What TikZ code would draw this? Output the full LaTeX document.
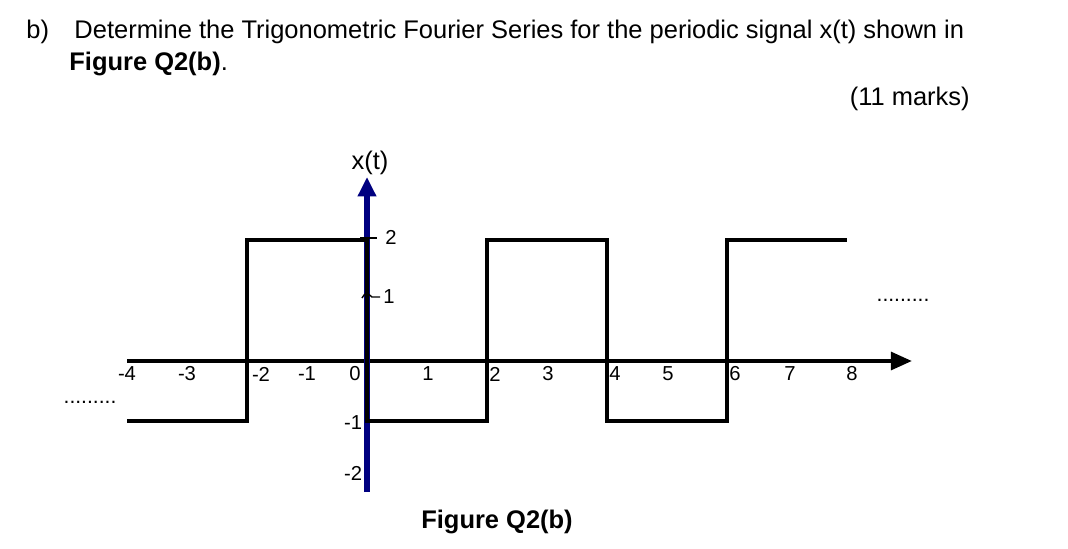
\documentclass[tikz,border=0pt]{standalone}
\usepackage{fontspec}
\setmainfont{Liberation Sans}
\usetikzlibrary{arrows.meta}
\begin{document}
\begin{tikzpicture}[x=0.02cm,y=-0.02cm,
  sig/.style={line width=2.4pt,black},
  tick/.style={font=\fontsize{11.5}{13}\selectfont,inner sep=0pt},
  txt/.style={font=\fontsize{14.5}{17}\selectfont,inner sep=0pt,anchor=west}]
\useasboundingbox (0,0) rectangle (1068,548);
\node[txt] (q) at (26,32) {b)\quad Determine the Trigonometric Fourier Series for the periodic signal x(t) shown in};
\node[txt] (q2) at (69,64) {\textbf{Figure Q2(b)}.};
\node[txt,anchor=east] (m) at (970,99) {(11 marks)};
\coordinate (xs) at (127,361);
\coordinate (xe) at (912,361);
\draw[sig,-{Triangle[length=12pt,width=10pt]}] (xs) -- (xe);
\coordinate (ys) at (367,492);
\coordinate (ye) at (367,177);
\draw[line width=3pt,blue!50!black,-{Triangle[length=11pt,width=10pt]}] (ys) -- (ye);
\draw[sig] (127,421) -- (247,421) -- (247,240) -- (367,240) -- (367,421) -- (487,421) -- (487,240) -- (607,240) -- (607,421) -- (727,421) -- (727,240) -- (847,240);
\draw[line width=0.8pt] (360,238) -- (377,238);
\draw[line width=0.8pt] (362,298) .. controls (366,292) .. (372,297) -- (380,297);
\node[tick] (l2) at (391,237) {2};
\node[tick] (l1) at (389,297) {1};
\node[tick] (lm1) at (353,423) {-1};
\node[tick] (lm2) at (353,473) {-2};
\node[font=\fontsize{14.5}{17}\selectfont,inner sep=0pt] (xt) at (370,163) {x(t)};
\foreach \v/\x in {-4/127,-3/187,-2/261,-1/307,0/355,1/428,2/495,3/548,4/615,5/668,6/735,7/790,8/852}
  \node[tick] at (\x,374) {\v};
\node[font=\fontsize{12}{13}\selectfont] (d1) at (903,300) {.........};
\node[font=\fontsize{12}{13}\selectfont] (d2) at (90,402) {.........};
\node[font=\bfseries\fontsize{14.5}{17}\selectfont,inner sep=0pt] (cap) at (497,522) {Figure Q2(b)};
\end{tikzpicture}
\end{document}
